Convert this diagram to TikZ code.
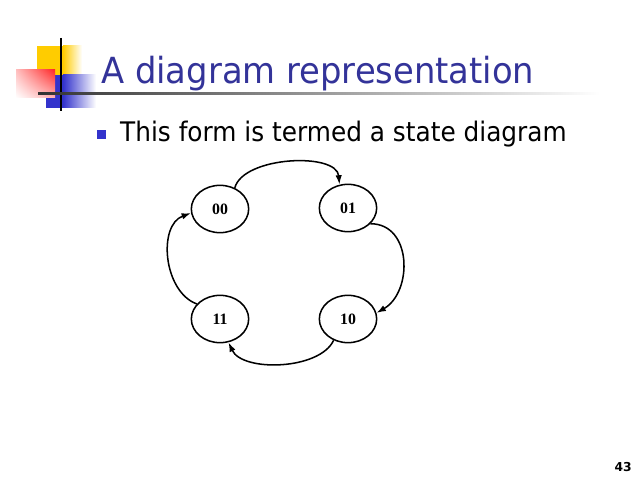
\documentclass[tikz,border=0pt]{standalone}
\usepackage{fontspec}
\usepackage{graphicx}
\usepackage{xcolor}
\setmainfont{DejaVu Sans}
\newfontfamily\statefont{Liberation Serif}
\usetikzlibrary{shapes.geometric,arrows.meta,shadings}
\definecolor{titleblue}{RGB}{51,51,153}
\definecolor{logoyellow}{RGB}{255,204,0}
\definecolor{logoblue}{RGB}{51,51,204}
\definecolor{logored}{RGB}{255,40,40}

\begin{document}
\begin{tikzpicture}[x=0.03cm, y=0.03cm,
    statenode/.style={draw, ellipse, line width=1.3pt, minimum width=1.72cm, minimum height=1.42cm, inner sep=0pt, font=\statefont\bfseries\fontsize{13.5}{15}\selectfont},
    trans/.style={-{Latex[length=8pt,width=5.5pt]}, line width=1.3pt}]
      \useasboundingbox (0,0) rectangle (638,478);
      % logo in the corner
      \fill[logoyellow] (37,403) rectangle (63,432);
      \shade[left color=logoyellow, right color=white] (63,403) rectangle (82,432);
      \fill[logoblue] (46,370) rectangle (63,403);
      \shade[left color=logoblue, right color=white] (63,370) rectangle (96,403);
      \shade[upper left=red!25, upper right=logored, lower left=white, lower right=red!30] (16,380) rectangle (55,408);
      \draw[line width=1.6pt] (61,440) -- (61,367);
      \shade[left color=black!80, middle color=black!60, right color=white] (38,383.8) rectangle (600,385.6);
      % title and bullet
      \node[anchor=base west, text=titleblue, inner sep=0pt] (title) at (101,394.7) {\fontsize{30.7}{36}\selectfont\scalebox{0.94}[1]{A diagram representation}};
      \fill[logoblue] (97,339) rectangle (106,348);
      \node[anchor=base west, inner sep=0pt] (line1) at (120,336.3) {\fontsize{23}{28}\selectfont\scalebox{0.92}[1]{This form is termed a state diagram}};
      % states
      \node[statenode] (s00) at (220,269) {00};
      \node[statenode] (s01) at (348,270) {01};
      \node[statenode] (s11) at (220,159) {11};
      \node[statenode] (s10) at (348,159) {10};
      \draw[trans] (s00.55) to[out=75, in=95, looseness=0.8] (s01.110);
      \draw[trans] (s01.-35) to[out=0, in=30, looseness=1.2] (s10.12);
      \draw[trans] (s10.236) to[out=245, in=-65, looseness=0.8] (s11.290);
      \draw[trans] (s11.147) to[out=160, in=200, looseness=1.0] (s00.188);
      % page number
      \node[anchor=base east, inner sep=0pt] (pagenum) at (632,6) {\fontsize{10.5}{12}\selectfont\bfseries 43};
\end{tikzpicture}
\end{document}
